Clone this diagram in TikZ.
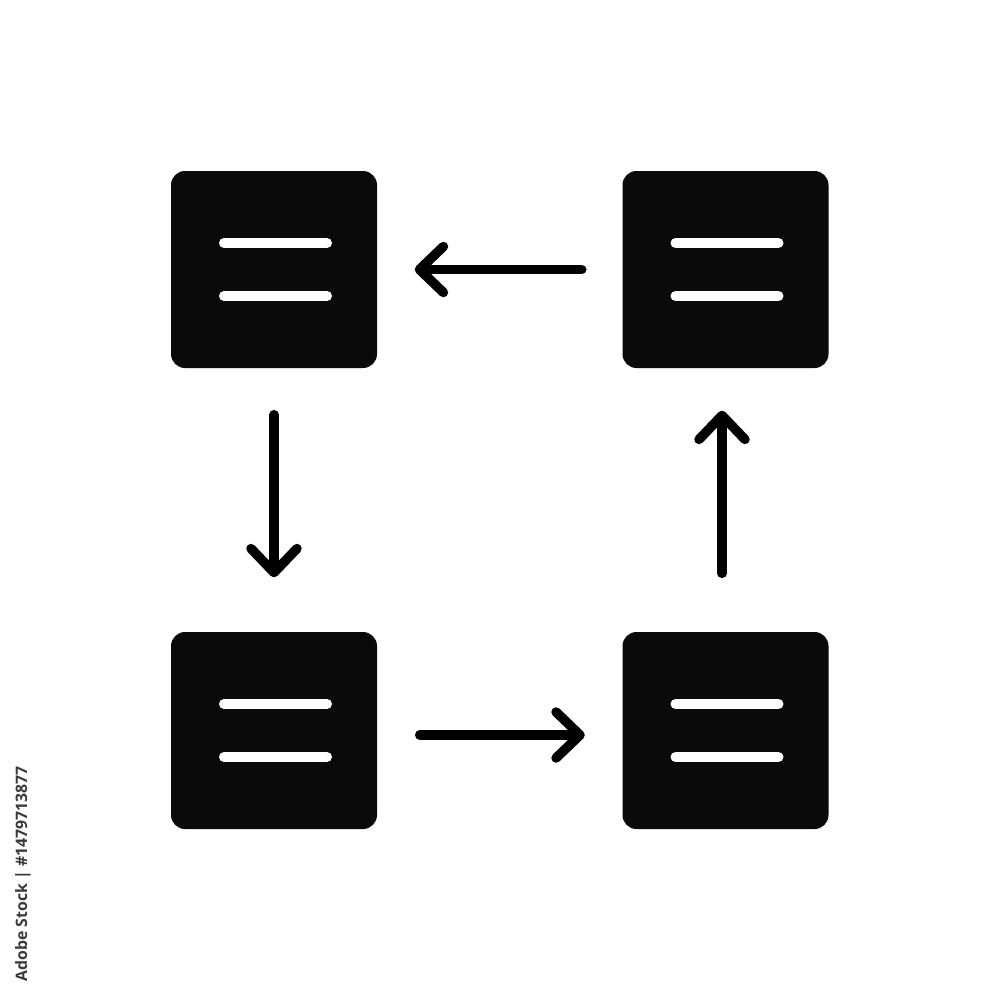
\documentclass[tikz,border=0pt]{standalone}
\usepackage{fontspec}
\setmainfont{Open Sans}
\usetikzlibrary{arrows.meta}
\definecolor{boxblack}{HTML}{0A0A0A}
\definecolor{marktext}{HTML}{3A3A3A}
\tikzset{
  card/.style={fill=boxblack, draw=none, rounded corners=1.4mm, minimum width=20.6mm, minimum height=19.7mm, inner sep=0pt},
  bar/.style={white, line width=1mm, line cap=round},
  arr/.style={black, line width=0.95mm, line cap=round,
    -{Straight Barb[length=2.4mm, width=4.6mm, round]}}
}
\begin{document}
\begin{tikzpicture}[x=0.1mm, y=-0.1mm]
\fill[white] (0,0) rectangle (1000,1000);
\useasboundingbox (0,0) rectangle (1000,1000);
\node[card] (tl) at (274,269.5) {};
\node[card] (tr) at (725.5,269.5) {};
\node[card] (bl) at (274,730.5) {};
\node[card] (br) at (725.5,730.5) {};
\foreach \n in {tl,tr,bl,br}{
  \draw[bar] ([xshift=-5mm,yshift=2.65mm]\n.center) -- ([xshift=5.3mm,yshift=2.65mm]\n.center);
  \draw[bar] ([xshift=-5mm,yshift=-2.65mm]\n.center) -- ([xshift=5.3mm,yshift=-2.65mm]\n.center);
}
\draw[arr, shorten <=4.0mm, shorten >=3.7mm] (tr.west) -- (tl.east);
\draw[arr, shorten <=4.6mm, shorten >=5.4mm] (tl.south) -- (bl.north);
\draw[arr, shorten <=4.2mm, shorten >=3.7mm] ([yshift=-0.45mm]bl.east) -- ([yshift=-0.45mm]br.west);
\draw[arr, shorten <=5.8mm, shorten >=4.2mm] ([xshift=-0.35mm]br.north) -- ([xshift=-0.35mm]tr.south);
\node[rotate=90, anchor=base west, inner sep=0pt, text=marktext, font=\bfseries\fontsize{4.5pt}{5pt}\selectfont] (mark) at (27,982) {Adobe Stock | \#1479713877};
\end{tikzpicture}
\end{document}
